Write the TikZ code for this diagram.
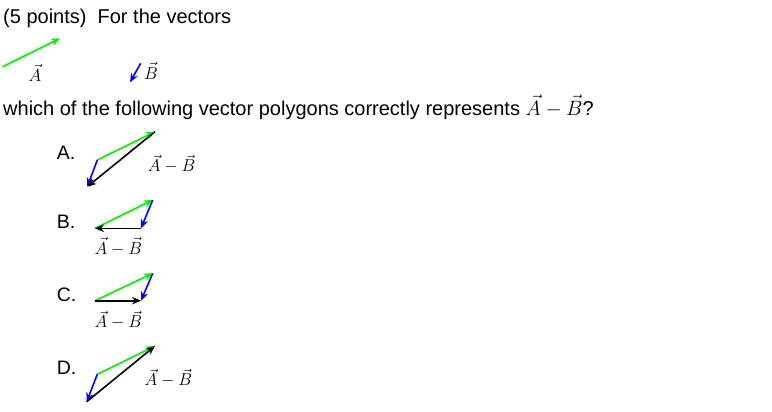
\documentclass[tikz,border=0pt]{standalone}
\usepackage{fontspec}
\setmainfont{Liberation Sans}
\usetikzlibrary{arrows.meta}
\definecolor{vgreen}{RGB}{0,240,0}
\definecolor{vblue}{RGB}{0,0,255}
\tikzset{
  vec/.style={line width=1.6pt,-{Stealth[length=9pt,width=7.5pt]}},
  vA/.style={vec,draw=vgreen,fill=vgreen},
  vB/.style={vec,draw=vblue,fill=vblue},
  vD/.style={vec,draw=black,fill=black},
  txt/.style={anchor=base west,inner sep=0pt,font=\fontsize{20}{24}\selectfont},
  opt/.style={anchor=base west,inner sep=0pt,font=\fontsize{19.5}{23}\selectfont},
  mlab/.style={inner sep=0pt,font=\fontsize{18}{21}\selectfont}
}
\begin{document}
\begin{tikzpicture}[x=1pt,y=-1pt]
\useasboundingbox (0,0) rectangle (772,412);
\node[txt] (t1) at (3,24) {(5 points)\ \ For the vectors};
% given vectors
\coordinate (a0) at (2.7,66.7);
\coordinate (a1) at (60,38.3);
\draw[vA] (a0) -- (a1);
\node[mlab] (la) at (35,73) {$\vec A$};
\coordinate (b0) at (140.7,63.3);
\coordinate (b1) at (130,82.3);
\draw[vB] (b0) -- (b1);
\node[mlab] (lb) at (151,71) {$\vec B$};
\node[txt] (t2) at (3,115) {which of the following vector polygons correctly represents $\vec A-\vec B$?};
% option A
\node[opt] (oA) at (56.7,160) {A.};
\coordinate (pA1) at (97.3,160);
\coordinate (pA2) at (155,131.7);
\coordinate (pA3) at (87.3,186.7);
\draw[vA] (pA1) -- (pA2);
\draw[vB] (pA1) -- (pA3);
\draw[vD] (pA2) -- (pA3);
\node[mlab] (mA) at (171.7,164.3) {$\vec A-\vec B$};
% option B
\node[opt] (oB) at (56.7,228.3) {B.};
\coordinate (pB1) at (95,228.3);
\coordinate (pB2) at (152.7,200);
\coordinate (pB3) at (141,228.3);
\draw[vA] (pB1) -- (pB2);
\draw[vB] (pB2) -- (pB3);
\draw[vD] (pB3) -- (pB1);
\node[mlab] (mB) at (118.3,246.7) {$\vec A-\vec B$};
% option C
\node[opt] (oC) at (56.7,301) {C.};
\coordinate (pC1) at (95,300.7);
\coordinate (pC2) at (152.7,273.3);
\coordinate (pC3) at (141,300.7);
\draw[vA] (pC1) -- (pC2);
\draw[vB] (pC2) -- (pC3);
\draw[vD] (pC1) -- (pC3);
\node[mlab] (mC) at (118.3,320) {$\vec A-\vec B$};
% option D
\node[opt] (oD) at (56.7,374) {D.};
\coordinate (pD1) at (97.3,374.3);
\coordinate (pD2) at (155,346);
\coordinate (pD3) at (86.7,401.7);
\draw[vA] (pD1) -- (pD2);
\draw[vB] (pD1) -- (pD3);
\draw[vD] (pD3) -- (pD2);
\node[mlab] (mD) at (168.3,378.3) {$\vec A-\vec B$};
\end{tikzpicture}
\end{document}
